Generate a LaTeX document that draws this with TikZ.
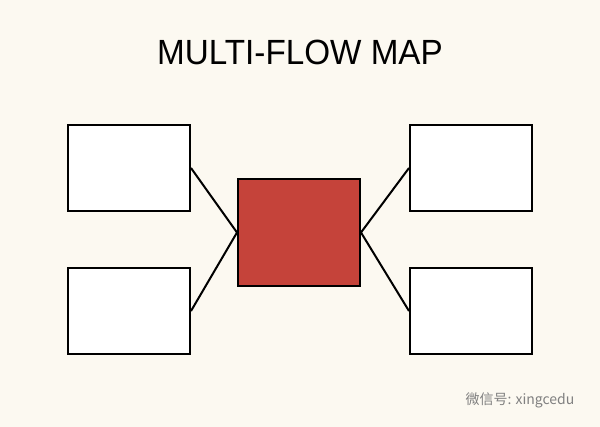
\documentclass[tikz,border=0pt]{standalone}
\usepackage{fontspec}
\setmainfont{Liberation Sans}
\newfontfamily\cjk{Noto Sans CJK SC}
\definecolor{bg}{HTML}{FCF9F1}
\definecolor{redc}{HTML}{C5433A}
\begin{document}
\begin{tikzpicture}[x=1pt,y=-1pt,
  box/.style={draw=black,line width=2pt,fill=white,minimum width=122pt,minimum height=86pt,inner sep=0pt},
  link/.style={line width=2pt}]
\fill[bg] (0,0) rectangle (600,427);
\useasboundingbox (0,0) rectangle (600,427);
\node[xscale=0.95] (title) at (300,52) {\fontsize{35}{40}\selectfont MULTI-FLOW MAP};
\node[box] (lt) at (129,168) {};
\node[box] (lb) at (129,311) {};
\node[box] (rt) at (471,168) {};
\node[box] (rb) at (471,311) {};
\node[box,fill=redc,minimum height=107pt] (c) at (299,232.5) {};
\draw[link] (lt.east) -- (c.west);
\draw[link] (lb.east) -- (c.west);
\draw[link] (rt.west) -- (c.east);
\draw[link] (rb.west) -- (c.east);
\node[text=gray,anchor=west] (wm) at (462,400) {\cjk\fontsize{14}{16}\selectfont 微信号: xingcedu};
\end{tikzpicture}
\end{document}
